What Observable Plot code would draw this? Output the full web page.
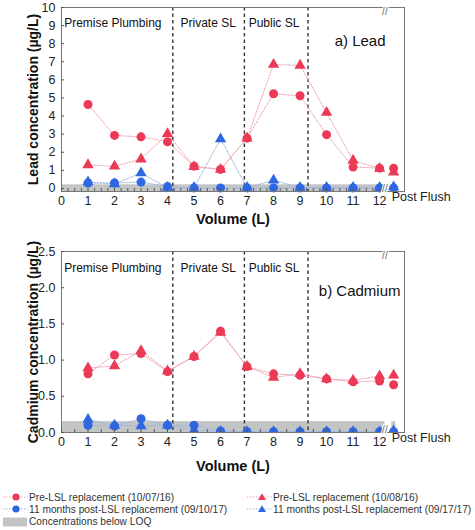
<!DOCTYPE html>
<html><head><meta charset="utf-8">
<script src="https://cdn.jsdelivr.net/npm/d3@7"></script>
<script src="https://cdn.jsdelivr.net/npm/@observablehq/plot@0.6"></script>
<style>
body{margin:0;background:#fff;font-family:"Liberation Sans",Arial,sans-serif;}
#chart{width:475px;position:relative}
#chart svg{display:block}
.legend{position:relative;height:56px;font-size:10.2px;color:#333}
.li{position:absolute;display:flex;align-items:center;height:12px;white-space:nowrap}
</style></head><body><div id="chart"></div>
<script>
// ---- data ----
const volumeLabels = ["1","2","3","4","5","6","7","8","9","10","11","12","Post Flush"];
const volumePos = [1,2,3,4,5,6,7,8,9,10,11,12,12.53];
const xTickValues = [0,1,2,3,4,5,6,7,8,9,10,11,12];
const sectionBounds = [4.2, 6.9, 9.3];
const sectionLabels = ["Premise Plumbing","Private SL","Public SL"];
const sectionLabelX = [0.1, 4.49, 7.06];
const axisBreak = 12.2;

const seriesNames = ["Pre-LSL replacement (10/07/16)","Pre-LSL replacement (10/08/16)",
  "11 months post-LSL replacement (09/10/17)","11 months post-LSL replacement (09/17/17)"];

// Lead (µg/L)
const leadPre1  = [4.64,2.93,2.85,2.58,1.23,1.05,2.78,5.23,5.12,2.97,1.18,1.12,1.12];
const leadPre2  = [1.30,1.22,1.62,3.02,1.20,1.05,2.78,6.85,6.80,4.20,1.55,1.10,0.90];
const leadPost1 = [0.30,0.30,0.35,0.10,0.03,0.03,0.03,0.03,0.03,0.03,0.03,0.03,0.03];
const leadPost2 = [0.35,0.25,0.85,0.05,0.05,2.73,0.05,0.45,0.05,0.05,0.05,0.05,0.08];
const leadLOQ = 0.2;
const leadTicks = [0,1,2,3,4,5,6,7,8,9,10];

// Cadmium (µg/L)
const cdPre1  = [0.81,1.07,1.09,0.84,1.05,1.40,0.91,0.81,0.79,0.74,0.70,0.71,0.66];
const cdPre2  = [0.89,0.92,1.13,0.85,1.05,1.38,0.91,0.76,0.81,0.74,0.72,0.78,0.79];
const cdPost1 = [0.10,0.09,0.19,0.10,0.10,0.02,0.01,0.01,0.01,0.01,0.01,0.01,0.01];
const cdPost2 = [0.18,0.10,0.09,0.10,0.03,0.01,0.01,0.01,0.01,0.01,0.01,0.01,0.02];
const cdLOQ = 0.15;
const cdTicks = [0,0.5,1.0,1.5,2.0,2.5];

const RED = "#ec3a56", BLUE = "#2f67e3", PINK = "#f2a2b4", LBLUE = "#9fb4e2";
const FONT = "Liberation Sans, Arial, sans-serif";

function rows(vals){ return vals.map((v,i)=>({x: volumePos[i], y: v, label: volumeLabels[i]})); }

function panel(o){
  const W = 475, ml = 61, mr = 71;
  const fw = W - ml - mr, fh = o.height - o.mt - o.mb;
  const s = o.series.map(rows);
  const connected = d => d.x <= 12;
  const xMinor = d3.range(0, 12 + 1e-9, o.xMinorStep);
  const bands = [{x1: 0, x2: axisBreak, y1: o.yDomain[0], y2: o.loq}];
  if (o.pfBand) bands.push({x1: volumePos[12]-0.07, x2: volumePos[12]+0.08, y1: o.yDomain[0], y2: o.loq});
  const marks = [
    Plot.rect(bands, {x1:"x1", x2:"x2", y1:"y1", y2:"y2", fill:"#c3c5c5"}),
    Plot.ruleX(sectionBounds, {stroke:"#333", strokeWidth:1.4, strokeDasharray:"3.5,3"}),
    Plot.line(s[0].filter(connected), {x:"x", y:"y", stroke:PINK, strokeWidth:1, strokeDasharray:"1.5,1.5"}),
    Plot.line(s[1].filter(connected), {x:"x", y:"y", stroke:PINK, strokeWidth:1, strokeDasharray:"1.5,1.5"}),
    Plot.line(s[2].filter(connected), {x:"x", y:"y", stroke:LBLUE, strokeWidth:1, strokeDasharray:"1.5,1.5"}),
    Plot.line(s[3].filter(connected), {x:"x", y:"y", stroke:LBLUE, strokeWidth:1, strokeDasharray:"1.5,1.5"}),
    Plot.dot(s[1], {x:"x", y:"y", symbol:"triangle", r:4.2, fill:RED, clip:o.clip}),
    Plot.dot(s[0], {x:"x", y:"y", symbol:"circle", r:4.5, fill:RED, clip:o.clip}),
    Plot.dot(s[3], {x:"x", y:"y", symbol:"triangle", r:4.2, fill:BLUE, clip:o.clip}),
    Plot.dot(s[2], {x:"x", y:"y", symbol:"circle", r:4.5, fill:BLUE, clip:o.clip}),
    Plot.frame({stroke:"#777"}),
    // inward ticks
    Plot.ruleX(xMinor, {stroke:"#555", insetTop: fh - 3}),
    Plot.ruleY(o.yTicks, {stroke:"#555", insetRight: fw - 3}),
    // axis break marks
    Plot.text(["//"], {x: axisBreak, frameAnchor:"top", fontSize:10, fill:"#666", stroke:"white", strokeWidth:2}),
    Plot.text(["//"], {x: axisBreak, frameAnchor:"bottom", fontSize:10, fill:"#666", stroke:"white", strokeWidth:2}),
    Plot.axisX({ticks: xTickValues, tickSize:0, tickPadding:5, label:null, fontSize:12.5, fill:"#222"}),
    Plot.text([{x: volumePos[12], t: volumeLabels[12]}], {x:"x", text:"t", frameAnchor:"bottom", dy:9.5, dx:-2, textAnchor:"start", fontSize:12.5, fill:"#222"}),
    Plot.axisY({ticks: o.yTicks, tickSize:0, tickPadding:6, tickFormat:o.yFmt, label:null, fontSize:12.5, fill:"#222"}),
    Plot.text(sectionLabels.map((t,i)=>({t, x: sectionLabelX[i]})), {x:"x", text:"t", frameAnchor:"top", dy:o.secDy, textAnchor:"start", fontSize:12, fill:"#111"}),
    Plot.text([o.title], {frameAnchor:"top-right", dx:o.titleDx, dy:o.titleDy, textAnchor:"end", fontSize:15, fill:"#111"}),
    Plot.text(["Volume (L)"], {frameAnchor:"bottom", dy:o.xlabDy, fontSize:14.5, fontWeight:"bold", fill:"#111"}),
    Plot.text([o.yLabel], {frameAnchor:"left", dx:-28, rotate:-90, textAnchor:"middle", fontSize:14, fontWeight:"bold", fill:"#111"})
  ];
  return Plot.plot({
    width: W, height: o.height, marginLeft: ml, marginRight: mr, marginTop: o.mt, marginBottom: o.mb,
    x: {domain:[0, 12.94]}, y: {domain: o.yDomain},
    style: {fontFamily: FONT, fontSize: "12.5px", background: "white", overflow: "visible"},
    marks
  });
}

const chart = document.getElementById("chart");
chart.append(panel({
  series:[leadPre1, leadPre2, leadPost1, leadPost2], yDomain:[-0.17,10], yTicks:leadTicks, yFmt:d3.format("d"),
  loq:leadLOQ, height:234, mt:7, mb:43, xMinorStep:0.25, secDy:11, title:"a) Lead", titleDx:-19, titleDy:28,
  xlabDy:32, yLabel:"Lead concentration (µg/L)", pfBand:false, clip:false
}));
chart.append(panel({
  series:[cdPre1, cdPre2, cdPost1, cdPost2], yDomain:[0,2.5], yTicks:cdTicks, yFmt:d3.format(".1f"),
  loq:cdLOQ, height:240, mt:17, mb:42, xMinorStep:0.5, secDy:12, title:"b) Cadmium", titleDx:-4, titleDy:34,
  xlabDy:38, yLabel:"Cadmium concentration (µg/L)", pfBand:true, clip:true
}));

// ---- legend ----
const legend = document.createElement("div");
legend.className = "legend";
function sym(kind, color, line){
  if (kind === "box") return `<svg width="26" height="12"><rect x="0" y="1.5" width="24" height="9" fill="#c3c5c5"/></svg>`;
  const mk = kind === "circle"
    ? `<circle cx="13" cy="6" r="3.6" fill="${color}"/>`
    : `<path d="M15,2.2 L19,9 L11,9 Z" fill="${color}"/>`;
  return `<svg width="26" height="12"><line x1="0" y1="6" x2="25" y2="6" stroke="${line}" stroke-dasharray="1.5,1.5"/>${mk}</svg>`;
}
const legendItems = [
  {name: seriesNames[0], kind:"circle", c:RED, l:PINK, left:3, top:17},
  {name: seriesNames[1], kind:"triangle", c:RED, l:PINK, left:247, top:17},
  {name: seriesNames[2], kind:"circle", c:BLUE, l:LBLUE, left:3, top:29},
  {name: seriesNames[3], kind:"triangle", c:BLUE, l:LBLUE, left:247, top:29},
  {name: "Concentrations below LOQ", kind:"box", left:3, top:41.5}
];
legendItems.forEach(it=>{
  const d = document.createElement("div");
  d.className = "li";
  d.style.left = it.left + "px"; d.style.top = it.top + "px";
  d.innerHTML = sym(it.kind, it.c, it.l) + `<span>${it.name}</span>`;
  legend.append(d);
});
chart.append(legend);
</script></body></html>
